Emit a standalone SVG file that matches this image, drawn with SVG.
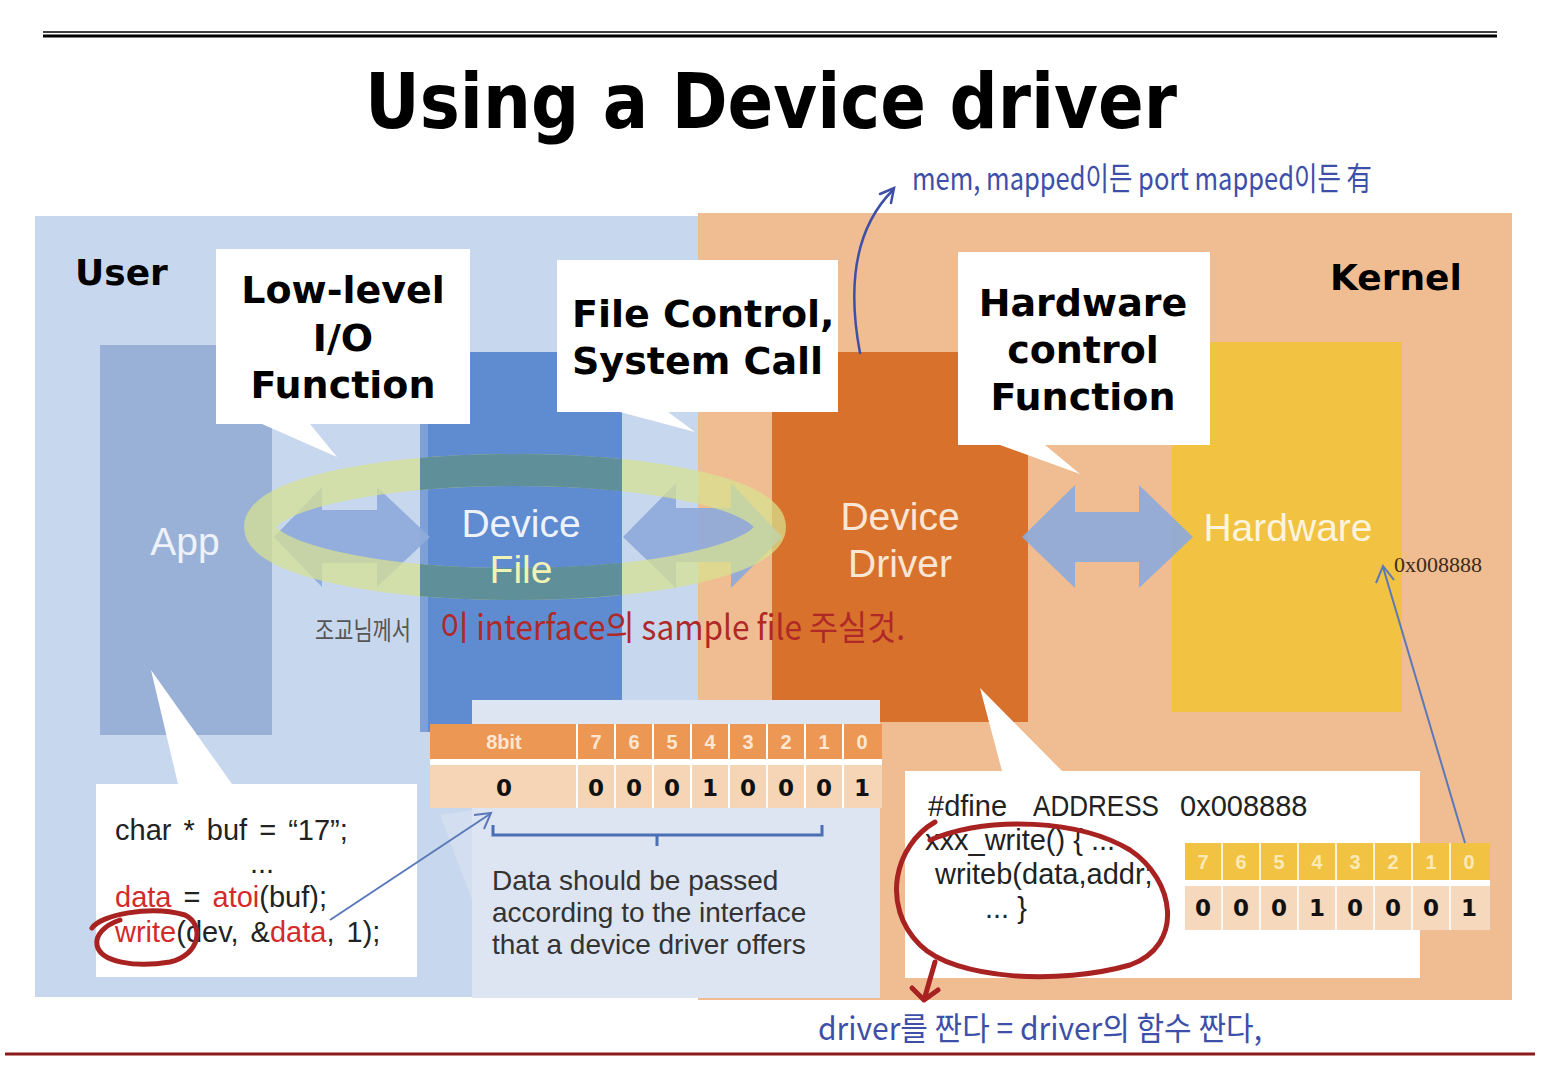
<svg xmlns="http://www.w3.org/2000/svg" width="1548" height="1082" viewBox="0 0 1548 1082">
<defs>
<style>
.callout{font-family:"DejaVu Sans",sans-serif;font-weight:bold;font-size:38px;fill:#000}
.lbl{font-family:"Liberation Sans",Arial,sans-serif;font-size:39px}
.code{font-family:"Liberation Sans",Arial,sans-serif;font-size:29px;fill:#222}
.note{font-family:"Liberation Sans",Arial,sans-serif;font-size:28px;fill:#333}
.red{fill:#d42a2a}
.hdr{font-family:"Liberation Sans",Arial,sans-serif;font-weight:bold;font-size:20px;text-anchor:middle}
.dig{font-family:"DejaVu Sans",sans-serif;font-weight:bold;font-size:23px;text-anchor:middle;fill:#111}
.hand{font-family:"Noto Sans CJK KR","Noto Sans",sans-serif}
.bigarrow{fill:#8eaadb;opacity:0.92}
.thin{stroke:#5b79b9;stroke-width:2;fill:none}
.pen{stroke:#a82222;stroke-width:5;fill:none;stroke-linecap:round;stroke-linejoin:round}
.bluepen{stroke:#3d4fa8;stroke-width:2.5;fill:none;stroke-linecap:round}
</style>
<clipPath id="dfclip"><rect x="420" y="350" width="202" height="400"/></clipPath>
</defs>
<rect width="1548" height="1082" fill="#fff"/>
<g id="header">
<line x1="43" y1="32" x2="1497" y2="32" stroke="#000" stroke-width="1.5"/>
<line x1="43" y1="36" x2="1497" y2="36" stroke="#000" stroke-width="3"/>
<text x="771" y="128" text-anchor="middle" font-family="DejaVu Sans,sans-serif" font-weight="bold" font-size="76" textLength="812" lengthAdjust="spacingAndGlyphs">Using a Device driver</text>
</g>
<g id="user-panel">
<rect x="35" y="216" width="665" height="781" fill="#c7d7ed"/>
<text x="75" y="285" font-family="DejaVu Sans,sans-serif" font-weight="bold" font-size="36">User</text>
</g>
<g id="kernel-panel">
<rect x="698" y="213" width="814" height="787" fill="#f0bd92"/>
<text x="1330" y="290" font-family="DejaVu Sans,sans-serif" font-weight="bold" font-size="36">Kernel</text>
</g>
<g id="app">
<rect x="100" y="345" width="172" height="390" fill="#9ab1d7"/>
<text x="185" y="555" text-anchor="middle" class="lbl" fill="#eef2fa">App</text>
</g>
<g id="device-file">
<rect x="420" y="352" width="202" height="380" fill="#5f8bd0"/>
<rect x="420" y="352" width="8" height="380" fill="#7da0d8"/>
</g>
<g id="device-driver">
<rect x="772" y="352" width="256" height="370" fill="#d8712c"/>
<text x="900" y="530" text-anchor="middle" class="lbl" fill="#fbe6d6">Device</text>
<text x="900" y="577" text-anchor="middle" class="lbl" fill="#fbe6d6">Driver</text>
</g>
<g id="hardware">
<rect x="1172" y="342" width="230" height="370" fill="#f2c243"/>
<text x="1288" y="541" text-anchor="middle" class="lbl" fill="#fdf4dc">Hardware</text>
</g>
<g id="callout-lowlevel">
<path d="M216,249 H470 V424 H310 L337,457 L262,424 H216 Z" fill="#fff"/>
<text class="callout" text-anchor="middle" x="343" y="303">Low-level</text>
<text class="callout" text-anchor="middle" x="343" y="351">I/O</text>
<text class="callout" text-anchor="middle" x="343" y="398">Function</text>
</g>
<g id="callout-filecontrol">
<path d="M557,260 H838 V412 H668 L695,432 L620,412 H557 Z" fill="#fff"/>
<text class="callout" x="572" y="327">File Control,</text>
<text class="callout" x="572" y="374">System Call</text>
</g>
<g id="callout-hwcontrol">
<path d="M958,252 H1210 V445 H1045 L1080,474 L1000,445 H958 Z" fill="#fff"/>
<text class="callout" text-anchor="middle" x="1083" y="316">Hardware</text>
<text class="callout" text-anchor="middle" x="1083" y="363">control</text>
<text class="callout" text-anchor="middle" x="1083" y="410">Function</text>
</g>
<g id="interface-panel">
<rect x="472" y="700" width="408" height="298" fill="#dce5f1"/>
<path d="M472,810 L440,815 L472,900 Z" fill="#d3def0"/>
<path d="M493,825 V835 H822 V825 M657,835 V846" stroke="#4a6fb5" stroke-width="3" fill="none"/>
<text class="note" x="492" y="890">Data should be passed</text>
<text class="note" x="492" y="922">according to the interface</text>
<text class="note" x="492" y="954">that a device driver offers</text>
</g>
<g id="table-8bit">
<rect x="430" y="724" width="452" height="35" fill="#ec9753"/>
<rect x="430" y="759" width="452" height="6" fill="#fff"/>
<rect x="430" y="765" width="452" height="43" fill="#f6d4b6"/>
<g stroke="#fff" stroke-width="2">
<line x1="577" y1="724" x2="577" y2="808"/><line x1="615" y1="724" x2="615" y2="808"/><line x1="653" y1="724" x2="653" y2="808"/><line x1="691" y1="724" x2="691" y2="808"/><line x1="729" y1="724" x2="729" y2="808"/><line x1="767" y1="724" x2="767" y2="808"/><line x1="805" y1="724" x2="805" y2="808"/><line x1="843" y1="724" x2="843" y2="808"/>
</g>
<g class="hdr" fill="#fde6d2">
<text x="504" y="749">8bit</text><text x="596" y="749">7</text><text x="634" y="749">6</text><text x="672" y="749">5</text><text x="710" y="749">4</text><text x="748" y="749">3</text><text x="786" y="749">2</text><text x="824" y="749">1</text><text x="862" y="749">0</text>
</g>
<g class="dig">
<text x="504" y="796">0</text><text x="596" y="796">0</text><text x="634" y="796">0</text><text x="672" y="796">0</text><text x="710" y="796">1</text><text x="748" y="796">0</text><text x="786" y="796">0</text><text x="824" y="796">0</text><text x="862" y="796">1</text>
</g>
</g>
<g id="app-code">
<path d="M96,784 H178 L151,670 L232,784 H417 V977 H96 Z" fill="#fff"/>
<text class="code" x="115" y="840" word-spacing="4">char * buf = “17”;</text>
<text class="code" x="250" y="873">...</text>
<text class="code" x="115" y="907" word-spacing="4"><tspan class="red">data</tspan> = <tspan class="red">atoi</tspan>(buf);</text>
<text class="code" x="115" y="942" word-spacing="4"><tspan class="red">write</tspan>(dev, &amp;<tspan class="red">data</tspan>, 1);</text>
</g>
<g id="driver-code">
<path d="M905,771 H1002 L980,688 L1062,771 H1420 V978 H905 Z" fill="#fff"/>
<text class="code" x="928" y="816">#dfine</text>
<text class="code" x="1033" y="816" textLength="126" lengthAdjust="spacingAndGlyphs">ADDRESS</text>
<text class="code" x="1180" y="816">0x008888</text>
<text class="code" x="925" y="850">xxx_write() { ...</text>
<text class="code" x="935" y="884">writeb(data,addr;</text>
<text class="code" x="985" y="918">... }</text>
</g>
<g id="table-register">
<rect x="1185" y="843" width="305" height="37" fill="#f2c242"/>
<rect x="1185" y="880" width="305" height="6" fill="#fff"/>
<rect x="1185" y="886" width="305" height="44" fill="#f6d8bd"/>
<g stroke="#fff" stroke-width="2" opacity="0.8">
<line x1="1222" y1="843" x2="1222" y2="930"/><line x1="1260" y1="843" x2="1260" y2="930"/><line x1="1298" y1="843" x2="1298" y2="930"/><line x1="1336" y1="843" x2="1336" y2="930"/><line x1="1374" y1="843" x2="1374" y2="930"/><line x1="1412" y1="843" x2="1412" y2="930"/><line x1="1450" y1="843" x2="1450" y2="930"/>
</g>
<g class="hdr" fill="#fbeab8">
<text x="1203" y="869">7</text><text x="1241" y="869">6</text><text x="1279" y="869">5</text><text x="1317" y="869">4</text><text x="1355" y="869">3</text><text x="1393" y="869">2</text><text x="1431" y="869">1</text><text x="1469" y="869">0</text>
</g>
<g class="dig">
<text x="1203" y="916">0</text><text x="1241" y="916">0</text><text x="1279" y="916">0</text><text x="1317" y="916">1</text><text x="1355" y="916">0</text><text x="1393" y="916">0</text><text x="1431" y="916">0</text><text x="1469" y="916">1</text>
</g>
</g>
<g id="address-label">
<text x="1394" y="572" font-family="Liberation Serif,serif" font-size="22" fill="#3b2a18">0x008888</text>
</g>
<g id="connectors">
<path class="bigarrow" d="M274,537 L322,487 L322,510 L377,510 L377,487 L430,537 L377,587 L377,563 L322,563 L322,587 Z"/>
<path class="bigarrow" d="M623,537 L676,483 L676,508 L731,508 L731,483 L782,537 L731,588 L731,562 L676,562 L676,588 Z"/>
<path class="bigarrow" d="M1022,537 L1075,485 L1075,512 L1139,512 L1139,485 L1193,537 L1139,588 L1139,562 L1075,562 L1075,588 Z"/>
<line class="thin" x1="330" y1="920" x2="490" y2="814"/>
<polyline class="thin" points="474,815 491,813 484,829"/>
<line class="thin" x1="1465" y1="843" x2="1383" y2="567"/>
<polyline class="thin" points="1376,583 1383,566 1394,580"/>
</g>
<g id="interface-ring">
<ellipse cx="515" cy="527" rx="255" ry="57" fill="none" stroke="#d8e290" stroke-width="32" opacity="0.72"/>
<ellipse cx="515" cy="527" rx="255" ry="57" fill="none" stroke="#5f8f98" stroke-width="32" clip-path="url(#dfclip)"/>
</g>
<g id="device-file-label">
<text x="521" y="537" text-anchor="middle" class="lbl" fill="#eef3fb">Device</text>
<text x="521" y="583" text-anchor="middle" class="lbl" fill="#f1f3b4">File</text>
</g>
<g id="annotations">
<path class="bluepen" d="M860,353 C850,300 848,235 893,190"/>
<polyline class="bluepen" points="880,194 894,188 891,203"/>
<text class="hand" x="912" y="190" font-size="32" fill="#3d4fa8" textLength="460" lengthAdjust="spacingAndGlyphs">mem, mapped이든 port mapped이든 有</text>
<text class="hand" x="315" y="640" font-size="26" fill="#555" textLength="96" lengthAdjust="spacingAndGlyphs">조교님께서</text>
<text class="hand" x="440" y="640" font-size="34" fill="#b02828" textLength="465" lengthAdjust="spacingAndGlyphs">이 interface의 sample file 주실것.</text>
<path class="pen" d="M935,822 C895,845 880,905 920,945 C955,980 1060,985 1130,965 C1185,945 1175,880 1130,850 C1080,820 990,815 930,840"/>
<path class="pen" d="M935,962 L924,1000 M912,988 L924,1000 L938,990"/>
<path class="pen" stroke-width="4" d="M92,928 C100,915 150,905 185,915 C205,925 200,955 170,962 C135,968 100,962 97,945 C95,935 105,925 120,920"/>
<text class="hand" x="818" y="1040" font-size="32" fill="#3d4fa8" textLength="444" lengthAdjust="spacingAndGlyphs">driver를 짠다 = driver의 함수 짠다,</text>
</g>
<line x1="5" y1="1054" x2="1535" y2="1054" stroke="#8b1a1a" stroke-width="3"/>
</svg>
